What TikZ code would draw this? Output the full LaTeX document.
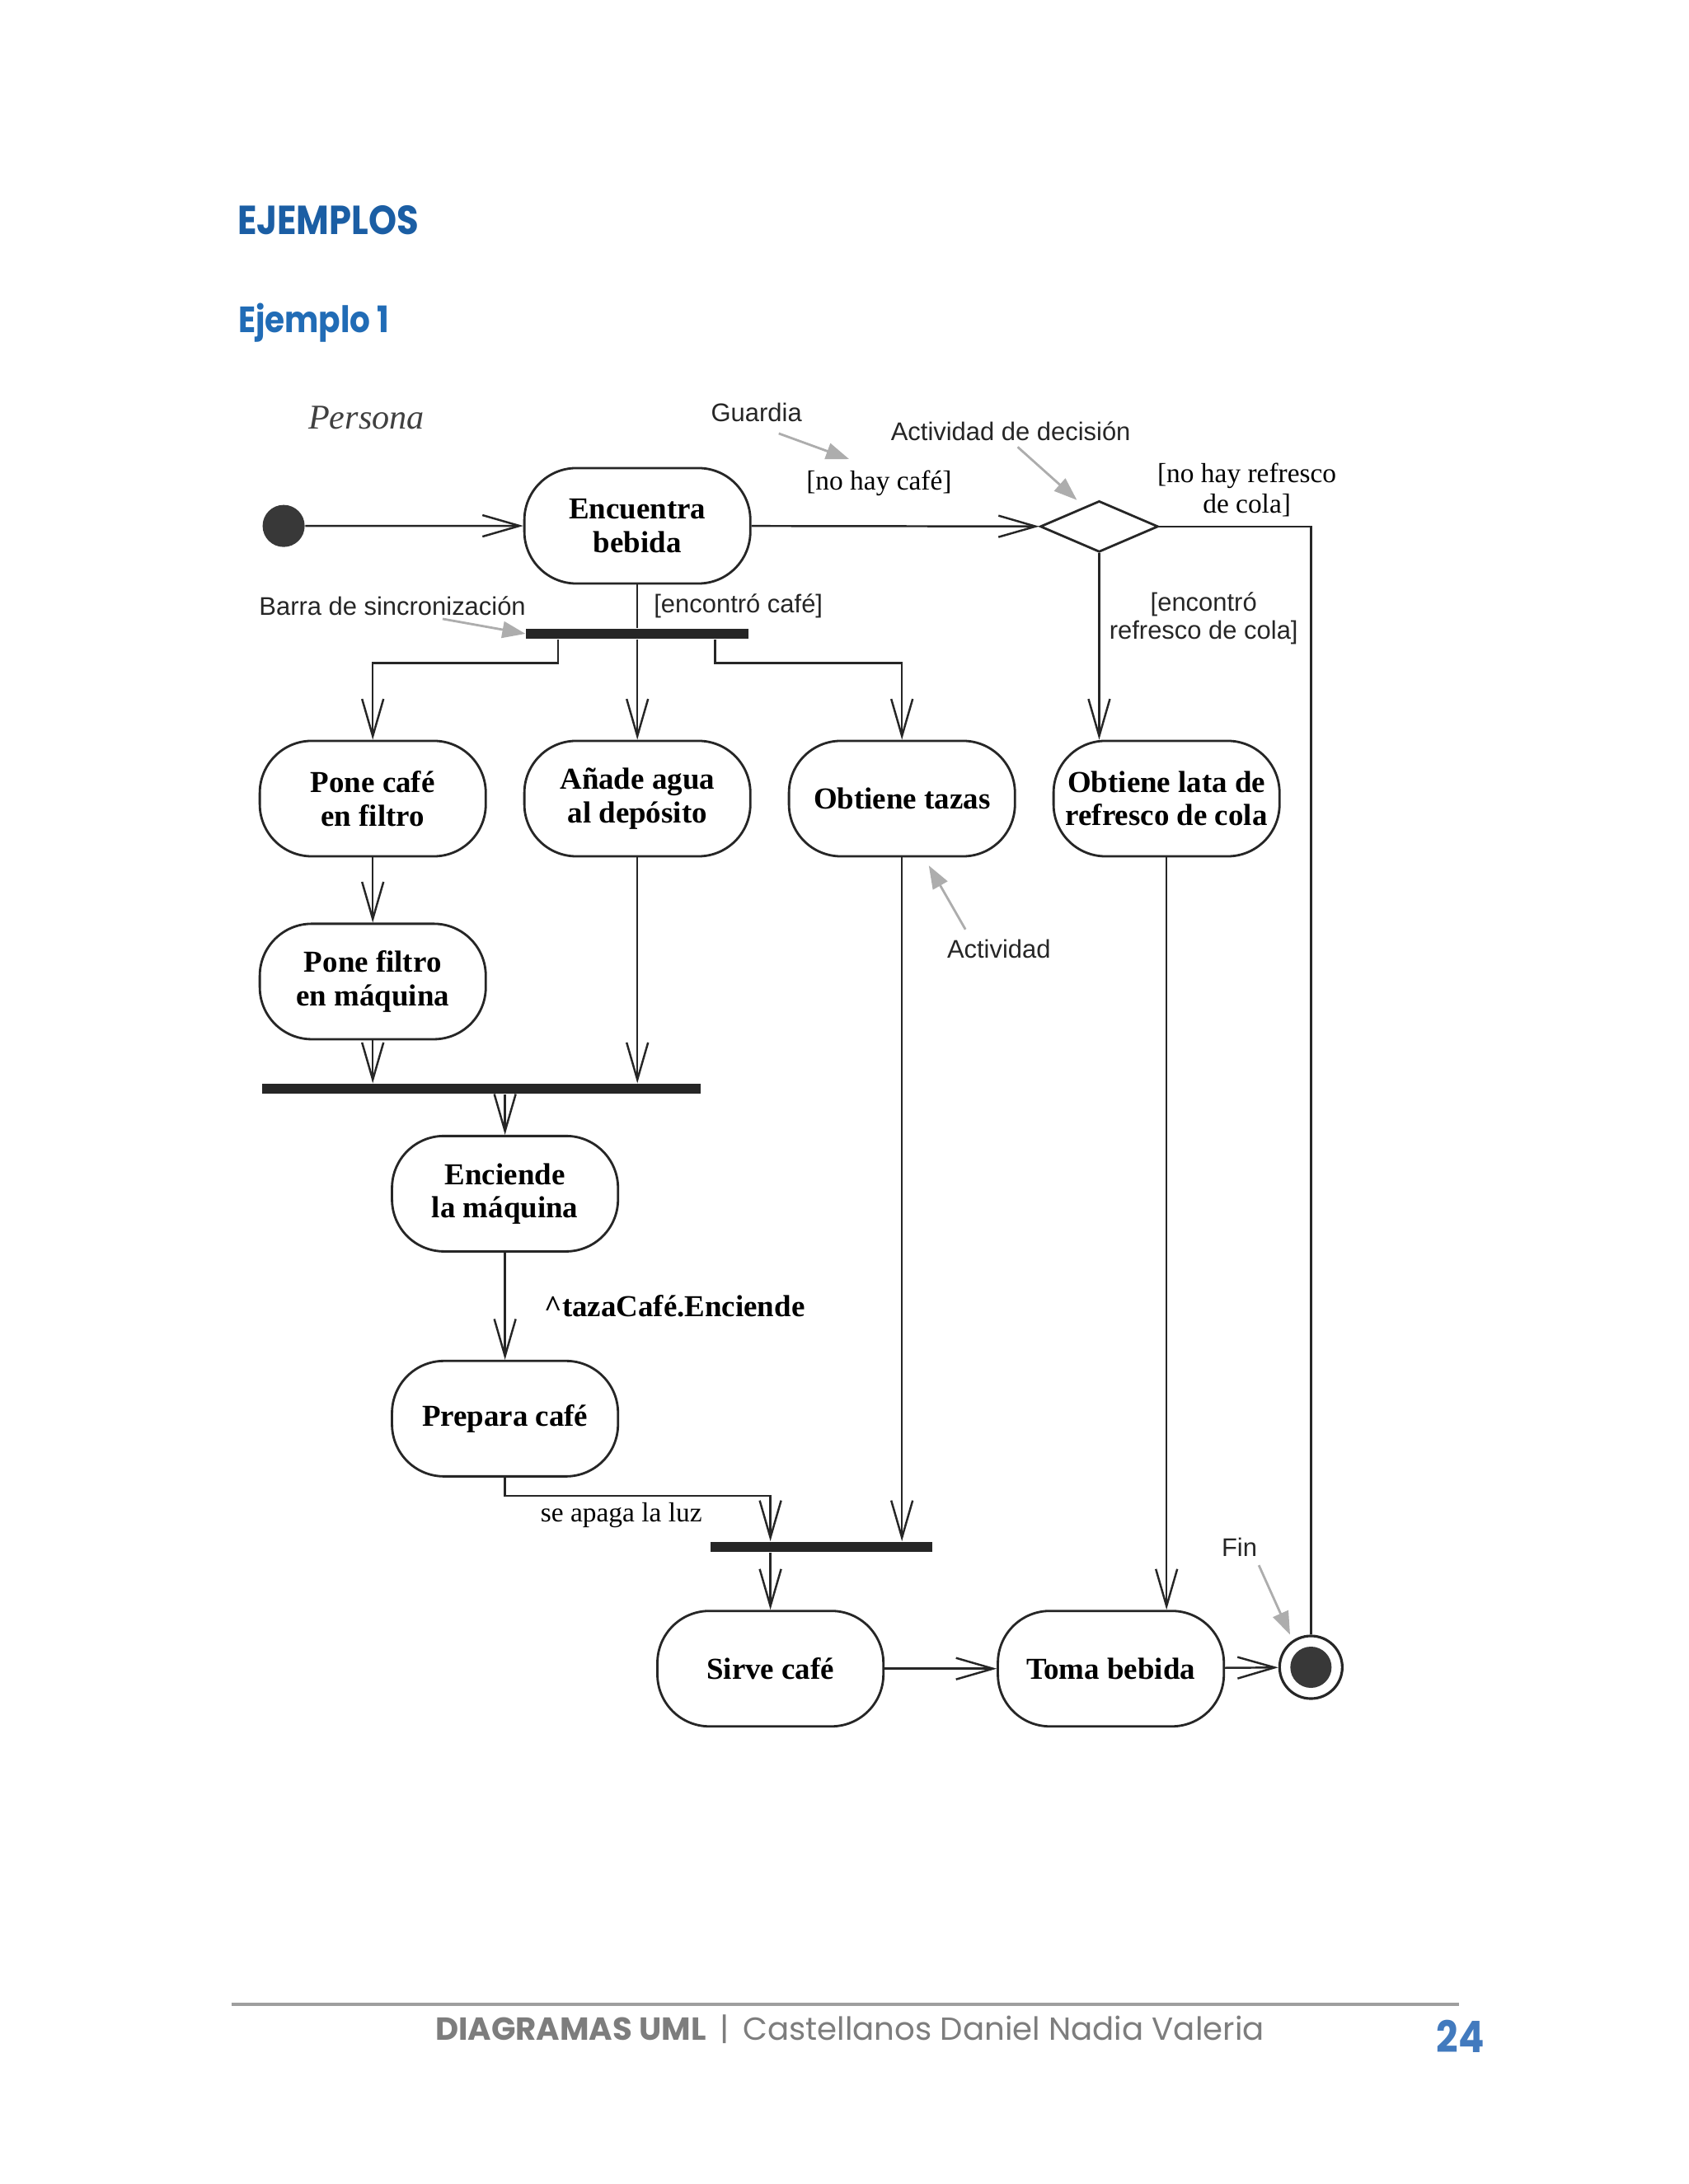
\documentclass[tikz,border=0pt]{standalone}
\usepackage{fontspec}
\setmainfont{Liberation Serif}
\setsansfont{Liberation Sans}
\newfontfamily\titulofont[FakeStretch=0.88]{Poppins}
\newfontfamily\piefont{Poppins}
\usetikzlibrary{arrows.meta,positioning,shapes.geometric}
\definecolor{azultitulo}{RGB}{27,94,164}
\definecolor{azulsub}{RGB}{33,108,182}
\definecolor{azulpagina}{RGB}{66,122,190}
\definecolor{grispie}{RGB}{125,125,125}
\tikzset{
  actividad/.style={
    rectangle,
    rounded corners=6.3mm,
    draw=black!85,
    line width=0.8pt,
    fill=white,
    align=center,
    minimum width=27.4mm,
    minimum height=14mm,
    inner sep=1pt,
    font=\bfseries\fontsize{10.5}{11.5}\selectfont
  },
  decision/.style={
    diamond,
    draw=black!85,
    line width=0.8pt,
    fill=white,
    minimum width=14.3mm,
    minimum height=6.2mm,
    inner sep=0pt
  },
  inicio/.style={
    circle,
    fill=black!78,
    minimum size=5.1mm,
    inner sep=0pt
  },
  estadofinal/.style={
    circle,
    draw=black!85,
    line width=0.9pt,
    minimum size=7.6mm,
    inner sep=0pt,
    path picture={\fill[black!78] (path picture bounding box.center) circle (2.5mm);}
  },
  barra/.style={
    rectangle,
    fill=black!85,
    inner sep=0pt,
    minimum height=1.2mm
  },
  guarda/.style={
    align=center,
    inner sep=1pt,
    font=\fontsize{9.5}{10.5}\selectfont
  },
  nota/.style={
    align=center,
    inner sep=1pt,
    text=black!85,
    font=\sffamily\fontsize{8.8}{9.8}\selectfont
  },
  flecha/.style={
    -{Straight Barb[length=4.5mm,width=2.6mm]},
    line width=0.7pt,
    draw=black!85
  },
  linea/.style={
    line width=0.7pt,
    draw=black!85
  },
  notaflecha/.style={
    -{Triangle[length=2.8mm,width=2mm]},
    line width=0.8pt,
    draw=black!32
  }
}

\begin{document}
\begin{tikzpicture}[x=0.016898cm, y=-0.016898cm]
  \useasboundingbox (0,0) rectangle (1212,1568);
  \fill[white] (0,0) rectangle (1212,1568);

  % titulos
  \node[anchor=base west, inner sep=0pt, text=azultitulo, font=\titulofont\bfseries\fontsize{14}{16}\selectfont] (ejemplos) at (170,168.6) {EJEMPLOS};
  \node[anchor=base west, inner sep=0pt, text=azulsub, font=\titulofont\bfseries\fontsize{12.6}{14}\selectfont] (ejemplo) at (170.6,239) {Ejemplo 1};

  % actividades
  \node[font=\itshape\fontsize{12}{14}\selectfont, text=black!75] (persona) at (263,300) {Persona};
  \node[inicio] (inicio) at (203.6,377.6) {};
  \node[actividad] (encuentra) at (457.5,377.5) {Encuentra\\bebida};
  \node[decision] (decision) at (789,378) {};
  \node[barra, minimum width=27mm] (barra1) at (457.5,455) {};
  \node[actividad, below=18.8mm of encuentra] (anadeagua) {Añade agua\\al depósito};
  \node[actividad, left=4.4mm of anadeagua] (ponecafe) {Pone café\\en filtro};
  \node[actividad, right=4.4mm of anadeagua] (tazas) {Obtiene tazas};
  \node[actividad, right=4.4mm of tazas] (lata) {Obtiene lata de\\refresco de cola};
  \node[actividad, below=7.9mm of ponecafe] (ponefiltro) {Pone filtro\\en máquina};
  \node[barra, minimum width=53.2mm] (barra2) at (345.5,781.7) {};
  \node[actividad] (enciende) at (362.5,857) {Enciende\\la máquina};
  \node[actividad, below=13mm of enciende] (prepara) {Prepara café};
  \node[barra, minimum width=26.9mm] (barra3) at (589.5,1110.5) {};
  \node[actividad] (sirve) at (553,1198) {Sirve café};
  \node[actividad, right=13.6mm of sirve] (toma) {Toma bebida};
  \node[estadofinal] (fin) at (941,1197) {};

  % guardas y notas
  \node[guarda] (nohaycafe) at (631,347) {[no hay café]};
  \node[guarda] (nohaycola) at (895,352) {[no hay refresco\\de cola]};
  \node[nota] (encontrocafe) at (530,435) {[encontró café]};
  \node[nota] (encontrocola) at (864,444) {[encontró\\refresco de cola]};
  \node[guarda] (seapaga) at (446,1088) {se apaga la luz};
  \node[nota] (guardia) at (543,296) {Guardia};
  \node[nota] (lbldecision) at (725.5,309.6) {Actividad de decisión};
  \node[nota] (lblbarra) at (281.7,435) {Barra de sincronización};
  \node[nota] (lblactividad) at (717,681.5) {Actividad};
  \node[nota] (lblfin) at (889.6,1110.6) {Fin};

  \coordinate (pguardia) at (609.5,329.6);
  \coordinate (pdecision) at (773,359);
  \coordinate (pactividad) at (666.7,621.4);
  \coordinate (pfin) at (926,1173.6);

  % transiciones
  \draw[flecha] (inicio) -- (encuentra);
  \draw[flecha] (encuentra) -- (decision);
  \draw[linea] (decision.east) -| (fin.north);
  \draw[flecha] (decision.south) -- (decision.south |- lata.north);
  \draw[linea] (encuentra.south) -- (barra1.north);
  \draw[flecha] (barra1.south) -- (anadeagua.north);
  \draw[flecha] ([shift={(23.5,0)}]barra1.south west) -- ++(0,17) -| (ponecafe.north);
  \draw[flecha] ([shift={(-24.5,0)}]barra1.south east) -- ++(0,17) -| (tazas.north);
  \draw[flecha] (ponecafe) -- (ponefiltro);
  \draw[flecha] (ponefiltro.south) -- (ponefiltro.south |- barra2.north);
  \draw[flecha] (anadeagua.south) -- (anadeagua.south |- barra2.north);
  \draw[flecha] (barra2.south -| enciende.north) -- (enciende.north);
  \draw[flecha] (enciende) -- node[right=3.5mm, font=\bfseries\fontsize{10.5}{12}\selectfont] (tazacafe) {\textasciicircum tazaCafé.Enciende} (prepara);
  \draw[flecha] (prepara.south) -- ++(0,13) -| (barra3.north -| sirve.north);
  \draw[flecha] (tazas.south) -- (tazas.south |- barra3.north);
  \draw[flecha] (barra3.south -| sirve.north) -- (sirve.north);
  \draw[flecha] (lata.south) -- (lata.south |- toma.north);
  \draw[flecha] (sirve) -- (toma);
  \draw[flecha] (toma) -- (fin);

  % flechas de las notas
  \draw[notaflecha] ([shift={(16,6)}]guardia.south) -- (pguardia);
  \draw[notaflecha] ([shift={(5,2)}]lbldecision.south) -- (pdecision);
  \draw[notaflecha] ([shift={(36,0)}]lblbarra.south) -- (barra1.west);
  \draw[notaflecha] ([shift={(-24,-5)}]lblactividad.north) -- (pactividad);
  \draw[notaflecha] ([shift={(14,4)}]lblfin.south) -- (pfin);

  % pie de pagina
  \draw[draw=black!38, line width=1.1pt] (166,1439) -- (1047,1439);
  \node[anchor=base west, inner sep=0pt, text=grispie, font=\piefont\fontsize{11}{13}\selectfont] (pie) at (312,1464.7) {\textbf{DIAGRAMAS UML} \,|\, Castellanos Daniel Nadia Valeria};
  \node[anchor=base west, inner sep=0pt, text=azulpagina, font=\titulofont\bfseries\fontsize{15}{17}\selectfont] (pagina) at (1030.7,1473.5) {24};
\end{tikzpicture}
\end{document}
